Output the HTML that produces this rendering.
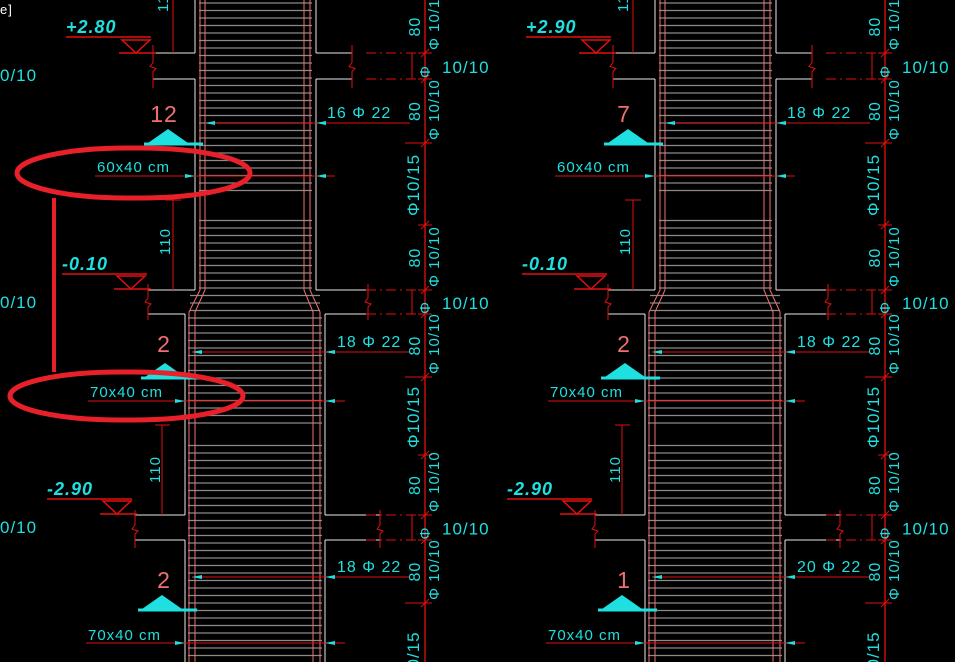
<!DOCTYPE html>
<html><head><meta charset="utf-8"><style>
html,body{margin:0;padding:0;background:#000;width:955px;height:662px;overflow:hidden}
svg{display:block}
text{font-family:"Liberation Sans",sans-serif;fill:#1ee0e0;letter-spacing:1px}
</style></head><body>
<svg id="s" width="955" height="662" xmlns="http://www.w3.org/2000/svg"></svg>
<script>
const S=document.getElementById('s');let h='';
const R='#e01010',W='#e8e8e8',G='#8a8a8a',C='#1ee0e0',P='#f07070';
function L(x1,y1,x2,y2,c,w,da){h+=`<line x1="${x1}" y1="${y1}" x2="${x2}" y2="${y2}" stroke="${c}" stroke-width="${w||1}" ${da?'stroke-dasharray="'+da+'"':''}/>`;}
function T(x,y,t,o){o=o||{};h+=`<text x="${x}" y="${y}" font-size="${o.fs||15}" ${o.it?'font-style="italic" font-weight="bold"':''} ${o.fill?'style="fill:'+o.fill+'"':''} ${o.a?'text-anchor="'+o.a+'"':''} ${o.rot?'transform="rotate(-90 '+x+' '+y+')"':''}>${t}</text>`;}
function tri(x,y,w,hh,c,up){h+= up?`<polygon points="${x},${y+hh} ${x+w},${y+hh} ${x+w/2},${y}" fill="${c}"/>`:`<polygon points="${x},${y} ${x+w},${y} ${x+w/2},${y+hh}" fill="none" stroke="${c}" stroke-width="1.5"/>`;}
function arr(x,y,dir){h+=`<polygon points="${x},${y} ${x+dir*10},${y-2} ${x+dir*10},${y+2}" fill="${C}"/>`;}
function col(d,lab){
 for(let y=3;y<662;y+=7.5){
  if((y>197&&y<217)||(y>423&&y<443))continue;
  if(y<290) L(d+199,y,d+312,y,G,1.3); else if(y<314){L(d+190,y,d+320,y,G,1.3);} else L(d+188,y,d+322,y,G,1.3);
 }
 [[200,189],[205,195],[304,313],[310,320]].forEach(([a,b])=>{
  h+=`<polyline points="${d+a},0 ${d+a},290 ${d+b},312 ${d+b},662" fill="none" stroke="${P}" stroke-width="1"/>`;
 });
 L(d+195,0,d+195,53,W);L(d+316,0,d+316,53,W);
 L(d+195,79,d+195,290,W);L(d+316,79,d+316,290,W);
 L(d+185,314,d+185,515,W);L(d+325,314,d+325,515,W);
 L(d+185,540,d+185,662,W);L(d+325,540,d+325,662,W);
 L(d+153,53,d+195,53,W);L(d+153,79,d+195,79,W);L(d+316,53,d+352,53,W);L(d+316,79,d+352,79,W);
 L(d+148,290,d+195,290,W);L(d+148,314,d+185,314,W);L(d+316,290,d+368,290,W);L(d+325,314,d+368,314,W);
 L(d+135,515,d+185,515,W);L(d+135,540,d+185,540,W);L(d+325,515,d+380,515,W);L(d+325,540,d+380,540,W);
 [[153,45,88],[352,45,88],[148,284,320],[368,284,320],[135,510,548],[380,510,548]].forEach(([x,a,b])=>{
  const m=(a+b)/2;h+=`<polyline points="${d+x},${a} ${d+x},${m-4} ${d+x-3},${m} ${d+x+3},${m+2} ${d+x},${m+5} ${d+x},${b}" fill="none" stroke="${R}"/>`;});
 [[lab.l1,66,33,122,40,53],[ '-0.10',62,270,117,276,289],['-2.90',47,495,103,501,514]].forEach(([t,x,y,tx,ty,by])=>{
  T(d+x,y,t,{it:1,fs:18});L(d+x,y+4,d+x+85,y+4,R,1.5);tri(d+tx,ty,28,by-ty,R,0);L(d+tx-3,by,d+tx+34,by,R,1.5);});
 L(d+173,0,d+173,53,R);T(d+168,12,'110',{rot:1});
 L(d+173,200,d+173,290,R);L(d+165,200,d+181,200,R);T(d+170,255,'110',{rot:1});
 L(d+162,425,d+162,515,R);L(d+155,425,d+170,425,R);T(d+160,483,'110',{rot:1});
 [[lab.m1,122,143,148],[lab.m2,352,377,145],[lab.m3,588,609,142]].forEach(([t,y,ly,x])=>{
  T(d+164,y,t,{fs:23,fill:P,a:'middle'});tri(d+x,ly-14,40,14,C,1);L(d+x-4,ly+1,d+x+55,ly+1,C,3);});
 [['60x40 cm',97,172,176,195,316,95,335],['70x40 cm',90,397,401,185,325,88,345],['70x40 cm',88,640,643,185,325,86,345]].forEach(([t,x,y,ly,a,b,s,e])=>{
  T(d+x,y,t,{fs:15});L(d+s,ly,d+e,ly,R);arr(d+a,ly,-1);arr(d+b,ly,1);});
 [[lab.b1,118,123,205],[lab.b2,347,352,192],[lab.b3,572,577,192]].forEach(([t,y,ly,a],i)=>{
  T(d+(i?337:327),y,t,{fs:16});L(d+a,ly,d+410,ly,R);arr(d+a,ly,1);arr(d+(i?325:316),ly,1);});
 L(d+425,0,d+425,662,R,1.3);
 [53,79,143,225,290,314,377,455,515,540,603].forEach(y=>{L(d+418,y,d+432,y,R);L(d+421,y+4,d+429,y-4,R);});
 [[0,53],[79,143],[225,290],[314,377],[455,515],[540,603]].forEach(([a,b])=>{
  const m=(a+b)/2;T(d+420,m+10,'80',{rot:1,fs:16});T(d+439,b-3,'Φ 10/10',{rot:1,fs:15});});
 [[143,225],[377,455],[603,720]].forEach(([a,b])=>{T(d+419,(a+b)/2+32,'Φ10/15',{rot:1,fs:17});L(d+405,a,d+425,a,R);});
 [[53,79],[290,314],[515,540]].forEach(([a,b])=>{
  L(d+366,a,d+425,a,R,1,'10 4 2 4');L(d+366,b,d+425,b,R,1,'10 4 2 4');L(d+412,a,d+412,b,R);
  T(d+430,(a+b)/2+12,'Φ',{rot:1,fs:15});T(d+442,(a+b)/2+7,'10/10',{fs:17});});
}
col(0,{l1:'+2.80',m1:'12',m2:'2',m3:'2',b1:'16 Φ 22',b2:'18 Φ 22',b3:'18 Φ 22'});
col(460,{l1:'+2.90',m1:'7',m2:'2',m3:'1',b1:'18 Φ 22',b2:'18 Φ 22',b3:'20 Φ 22'});
T(0,81,'0/10',{fs:17});T(0,308,'0/10',{fs:17});T(0,533,'0/10',{fs:17});
T(0,14,'e]',{fs:13,fill:'#fff'});
h+=`<rect x="17" y="148" width="233" height="50" rx="110" ry="25" fill="none" stroke="#e8202a" stroke-width="5"/>`;
h+=`<rect x="10" y="372" width="233" height="48" rx="110" ry="24" fill="none" stroke="#e8202a" stroke-width="5"/>`;
L(54,198,54,372,'#e8202a',4);
S.innerHTML=h;
</script>
</body></html>
